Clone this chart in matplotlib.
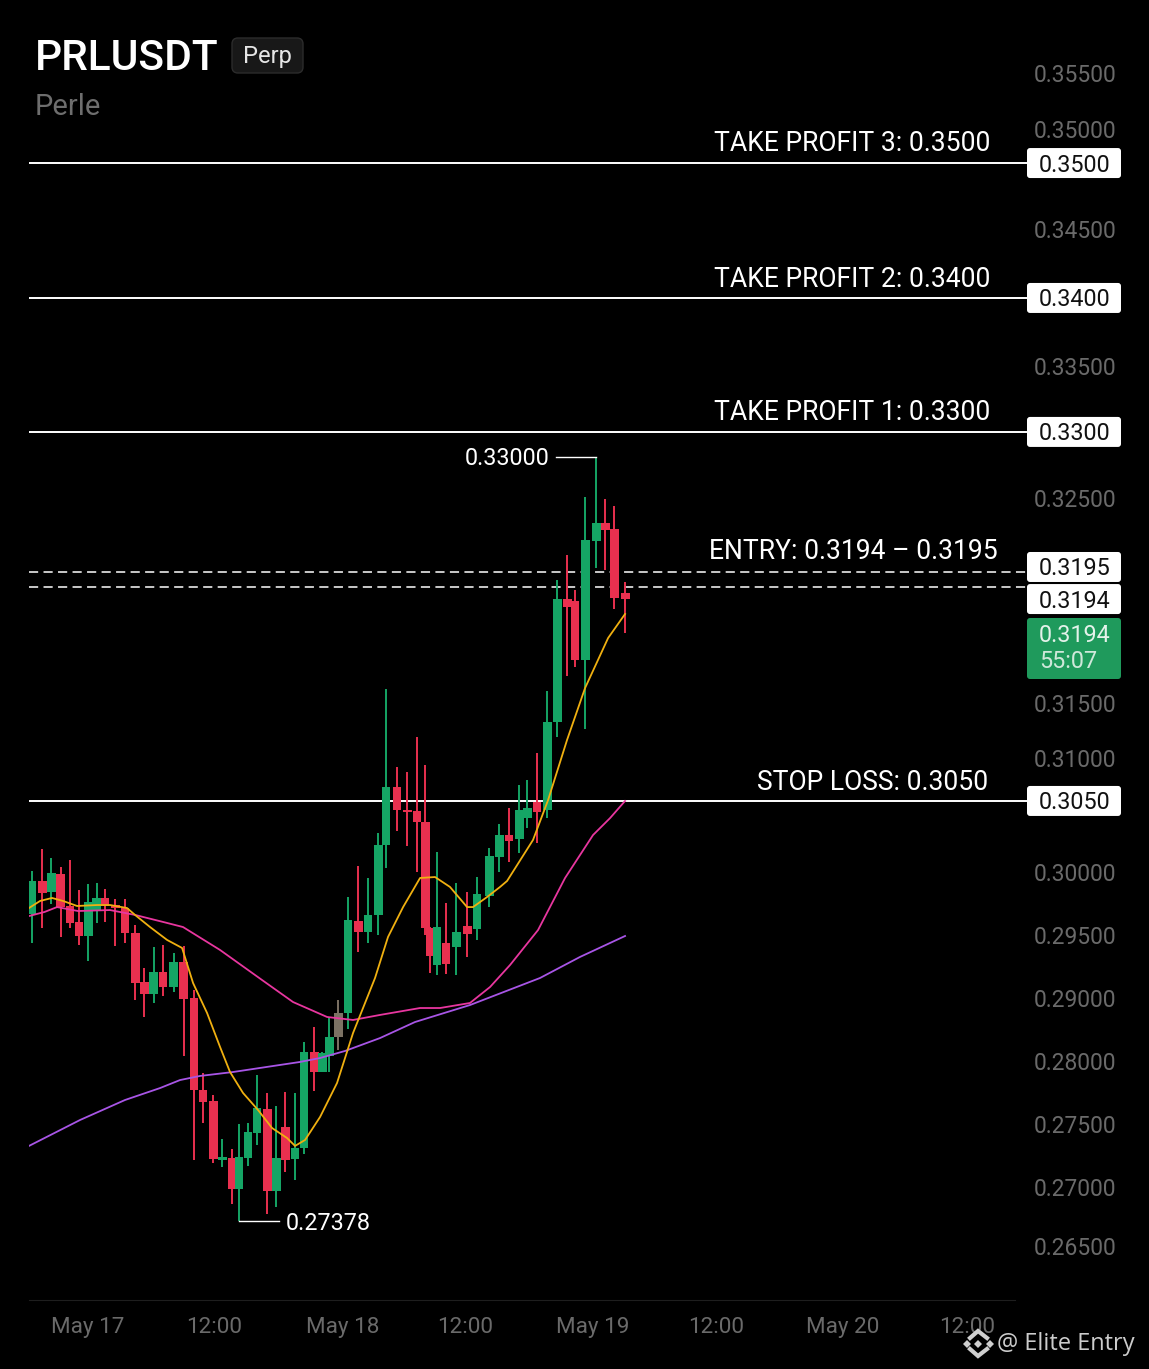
import matplotlib
matplotlib.use('Agg')
from matplotlib import pyplot as plt
from matplotlib.lines import Line2D
from matplotlib.patches import FancyBboxPatch
from matplotlib.transforms import Affine2D

plt.rcParams['font.family'] = ['Roboto', 'DejaVu Sans']

candle_hours = [-5.35, -4.39, -3.53, -2.63, -1.72, -0.86, 0, 0.81, 1.62, 2.58, 3.53, 4.49, 5.35, 6.26, 7.16, 8.17,
                9.12, 10.12, 10.98, 11.94, 12.80, 13.75, 14.42, 15.28, 16.14, 17.10, 17.96, 18.82, 19.77, 20.63, 21.59, 22.35,
                23.02, 23.88, 24.83, 25.79, 26.74, 27.70, 28.46, 29.51, 30.47, 31.42, 32.19, 32.66, 33.33, 34.19, 35.15, 36.20,
                37.15, 38.30, 39.26, 40.21, 41.17, 41.93, 42.88, 43.84, 44.80, 45.75, 46.51, 47.47, 48.52, 49.38, 50.24, 51.29]
opens = [.29637, .29880, .29799, .29931, .29696, .29578, .29475, .29666, .29755, .29703, .29681, .29497, .29137, .29048, .29210, .29099,
         .29284, .29019, .28342, .28261, .27826, .27841, .27613, .27841, .28025, .28202, .27598, .28069, .27834, .27915, .28622, .28474,
         .28592, .28732, .28908, .29586, .29504, .29630, .30145, .30572, .30402, .30395, .30314, .29534, .29262, .29424, .29394, .29548,
         .29527, .29769, .30057, .30219, .30189, .30343, .30461, .30402, .31050, .31955, .31941, .31506, .32382, .32515, .32471, .32000]
highs = [.29953, .30115, .30049, .29983, .30034, .29814, .29858, .29865, .29821, .29747, .29747, .29556, .29240, .29394, .29409, .29350,
         .29402, .29078, .28467, .28305, .27981, .27907, .28091, .28099, .28452, .28320, .28224, .28327, .28320, .28695, .28805, .28622,
         .28872, .29004, .29762, .29990, .29902, .30233, .31293, .30719, .30682, .30940, .30734, .29541, .30093, .29718, .29865, .29799,
         .29909, .30123, .30300, .30417, .30586, .30623, .30822, .31278, .32095, .32279, .32022, .32706, .33000, .32691, .32640, .32081]
lows = [.29424, .29534, .29711, .29468, .29534, .29409, .29291, .29571, .29578, .29402, .29424, .29004, .28879, .28982, .29033, .29063,
        .28592, .27826, .28099, .27804, .27775, .27502, .27378, .27782, .27937, .27429, .27480, .27738, .27679, .27871, .28334, .28474,
        .28474, .28636, .28790, .29357, .29424, .29483, .29976, .30248, .30137, .29946, .29483, .29203, .29188, .29195, .29188, .29320,
        .29446, .29688, .29946, .30020, .30086, .30270, .30160, .30343, .30940, .31389, .31455, .30999, .32184, .32169, .31882, .31705]
closes = [.29880, .29792, .29939, .29688, .29571, .29475, .29725, .29755, .29696, .29681, .29497, .29129, .29048, .29210, .29099, .29284,
          .29011, .28342, .28253, .27834, .27848, .27613, .27848, .28032, .28209, .27598, .27841, .27826, .27915, .28622, .28474, .28614,
          .28732, .28908, .29593, .29504, .29630, .30145, .30572, .30402, .30388, .30314, .29534, .29328, .29541, .29269, .29504, .29490,
          .29784, .30064, .30219, .30174, .30402, .30417, .30388, .31050, .31955, .31896, .31506, .32390, .32515, .32463, .31963, .31955]
faded_candles = [33]

ma7_hours = [-5.64, -4.58, -3.44, -2.39, -1.05, .86, 2.10, 3.72, 4.49, 5.92, 7.55, 8.98, 10.03, 11.37, 12.61, 13.56, 14.80, 16.24, 17.57, 19.01, 19.77,
             20.73, 22.16, 23.78, 25.31, 27.41, 28.65, 30.09, 31.71, 33.14, 34.57, 36.20, 36.77, 38.11, 39.35, 40.02, 42.50, 43.94, 45.75, 47.47, 49.67, 51.29]
ma7_values = [.29681, .29733, .29755, .29733, .29696, .29703, .29703, .29681, .29630, .29541, .29446, .29387, .29129, .28908, .28658, .28474, .28320, .28194, .28062, .27988, .27930,
              .27974, .28143, .28393, .28761, .29166, .29468, .29688, .29902, .29909, .29836, .29688, .29688, .29762, .29836, .29880, .30182, .30476, .30918, .31300, .31668, .31845]
ma25_hours = [-5.64, -4.15, -2.96, -.96, 2.10, 4.49, 7.55, 9.07, 12.61, 16.62, 19.58, 22.83, 25.31, 27.88, 31.71, 33.62, 36.48, 38.40, 40.31, 42.98, 45.56, 48.23, 49.86, 51.29]
ma25_values = [.29622, .29652, .29688, .29659, .29666, .29630, .29571, .29541, .29372, .29151, .28989, .28879, .28857, .28894, .28945, .28945, .28982, .29100, .29262, .29519, .29902, .30218, .30343, .30469]
ma99_hours = [-5.64, -.76, 3.53, 6.88, 8.79, 10.70, 13.85, 18.34, 20.25, 22.16, 24.55, 27.89, 31.23, 36.48, 43.17, 46.99, 51.29]
ma99_values = [.27930, .28121, .28268, .28356, .28415, .28445, .28474, .28526, .28548, .28577, .28629, .28724, .28842, .28967, .29166, .29321, .29475]

# where each label sits on the candle scale (the printed numbers don't line up with it)
price_tick_pos = [.35826, .35414, .34679, .33670, .32699, .31190, .30785, .29946, .29483, .29019, .28555, .28091, .27628, .27193]
price_tick_labels = ['0.35500', '0.35000', '0.34500', '0.33500', '0.32500', '0.31500', '0.31000',
                     '0.30000', '0.29500', '0.29000', '0.28000', '0.27500', '0.27000', '0.26500']
time_tick_pos = [0, 12, 24.3, 36.05, 48.2, 60.0, 72.1, 83.95]
time_tick_labels = ['May 17', '12:00', 'May 18', '12:00', 'May 19', '12:00', 'May 20', '12:00']

solid_levels = [.35164, .34171, .33185, .30469]
solid_level_tags = ['0.3500', '0.3400', '0.3300', '0.3050']
dashed_levels = [.32154, .32044]
entry_tag_pos = [.32191, .31955]
entry_tags = ['0.3195', '0.3194']
level_notes = ['TAKE PROFIT 3: 0.3500', 'TAKE PROFIT 2: 0.3400', 'TAKE PROFIT 1: 0.3300', 'ENTRY: 0.3194 – 0.3195', 'STOP LOSS: 0.3050']
level_note_pos = [.35310, .34309, .33330, .32308, .30606]
level_note_right = [86.15, 86.15, 86.15, 86.9, 85.95]

GREEN = '#15a565'
RED = '#e9304f'
FADED = '#7c7264'
BG = 'black'
W, H = 1149, 1369

fig = plt.figure(figsize=(W / 100, H / 100), dpi=100, facecolor=BG)
ax = fig.add_axes([29 / W, 1 - 1300 / H, (1027 - 29) / W, 1300 / H], facecolor=BG)
ax.set_xlim(-5.64, 89.68)
ax.set_ylim(.26796, .36364)

for s in ['top', 'left', 'right']:
    ax.spines[s].set_visible(False)
ax.spines['bottom'].set_color('#1e1e1e')
ax.spines['bottom'].set_bounds(-5.64, 88.54)

ax.yaxis.tick_right()
ax.set_yticks(price_tick_pos, price_tick_labels)
ax.set_xticks(time_tick_pos, time_tick_labels)
ax.tick_params(axis='y', length=0, pad=5, labelsize=16.4, labelcolor='#6a6a6a')
ax.tick_params(axis='x', length=0, pad=12, labelsize=16.2, labelcolor='#6a6a6a')

# levels go behind the candles
for p in solid_levels:
    ax.axhline(p, color='white', lw=1.4, zorder=1)
for p in dashed_levels:
    ax.axhline(p, color='white', lw=1.1, dashes=(6, 3.5), zorder=1)

for i in range(len(candle_hours)):
    col = GREEN if closes[i] >= opens[i] else RED
    if i in faded_candles:
        col = FADED
    ax.vlines(candle_hours[i], lows[i], highs[i], color=col, lw=1.4, zorder=2)
    ax.bar(candle_hours[i], abs(closes[i] - opens[i]), bottom=min(opens[i], closes[i]),
           width=0.85, color=col, zorder=2.5)

ax.plot(ma99_hours, ma99_values, color='#a855e6', lw=1.3, zorder=3)
ax.plot(ma25_hours, ma25_values, color='#e8369f', lw=1.3, zorder=3)
ax.plot(ma7_hours, ma7_values, color='#f0b010', lw=1.3, zorder=3)

for note, p, r in zip(level_notes, level_note_pos, level_note_right):
    ax.text(r, p, note, color='white', fontsize=19.1, ha='right', va='center', zorder=4)

# high / low markers
hi = highs.index(max(highs))
lo = lows.index(min(lows))
ax.plot([44.7, candle_hours[hi]], [highs[hi], highs[hi]], color='white', lw=1.0, zorder=4)
ax.text(44.1, highs[hi] - .00007, '0.33000', color='white', fontsize=16.8, ha='right', va='center')
ax.plot([candle_hours[lo], 18.24], [lows[lo], lows[lo]], color='white', lw=1.0, zorder=4)
ax.text(18.9, lows[lo] - .00022, '0.27378', color='white', fontsize=16.8, ha='left', va='center')

# everything below is placed in picture pixels, y going down
px = Affine2D().scale(1, -1).translate(0, H)

def box(x0, y0, w, h, fc, ec='none', rnd=3):
    fig.add_artist(FancyBboxPatch((x0, y0), w, h, boxstyle='round,pad=0,rounding_size=%d' % rnd,
                                  fc=fc, ec=ec, lw=1, transform=px))

def label(x, y, s, **kw):
    fig.add_artist(plt.Text(x, y, s, transform=px, va='center', **kw))

def tag(price, s):
    y = H - ax.transData.transform((0, price))[1]
    box(1027, y - 15, 94, 30, 'white')
    label(1074.5, y + 2, s, color='#111111', fontsize=16.8, ha='center')

for p, s in zip(solid_levels, solid_level_tags):
    tag(p, s)
for p, s in zip(entry_tag_pos, entry_tags):
    tag(p, s)

box(1027, 618, 94, 61, '#1f9a5c')
label(1074.5, 636, '0.3194', color='#e4f2ea', fontsize=16.8, ha='center')
label(1068, 662, '55:07', color='#cfe8da', fontsize=16.8, ha='center')

label(35, 58, 'PRLUSDT', color='white', fontsize=30.6, fontweight='medium', ha='left')
label(35, 107, 'Perle', color='#6e6e6e', fontsize=21, ha='left')
box(232, 38, 71, 35, '#181818', '#2c2c2c', rnd=6)
label(267.5, 57, 'Perp', color='#e6e6e6', fontsize=17, ha='center')

# watermark
for xs, ys in [((970, 978, 987), (1338, 1331, 1338)), ((970, 978, 987), (1349, 1356, 1349))]:
    fig.add_artist(Line2D(xs, ys, color='#d0d0d0', lw=3, transform=px, solid_joinstyle='miter'))
for cx in [967, 978, 990]:
    fig.add_artist(Line2D([cx], [1343.5], marker='D', ms=4.5, color='#d0d0d0', mew=0, transform=px))
label(997, 1344, '@ Elite Entry', color='#cccccc', fontsize=17, family=['Open Sans', 'DejaVu Sans'], ha='left')

fig.savefig('out.png', dpi=100, facecolor=BG)
